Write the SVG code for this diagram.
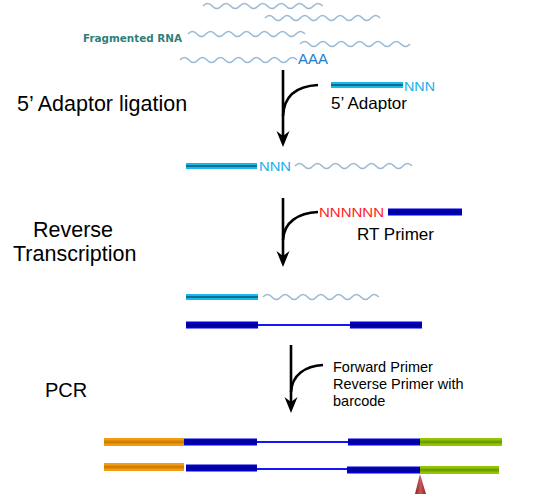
<svg xmlns="http://www.w3.org/2000/svg" width="551" height="494" viewBox="0 0 551 494">
<style>
.wave{fill:none;stroke:#9bb9d2;stroke-width:1.6}
.lbl{font-family:"Liberation Sans",Arial,sans-serif;fill:#000}
.cyo{stroke:#1ab8e8;stroke-width:6;fill:none}
.cyi{stroke:#0b6f90;stroke-width:2;fill:none}
.blo{stroke:#0000d8;stroke-width:7;fill:none}
.bli{stroke:#000092;stroke-width:3;fill:none}
.thin{stroke:#1414ff;stroke-width:2.2;fill:none}
.oro{stroke:#f29c14;stroke-width:8;fill:none}
.ori{stroke:#d07f00;stroke-width:3;fill:none}
.gro{stroke:#94c600;stroke-width:8;fill:none}
.gri{stroke:#6f9d00;stroke-width:3;fill:none}
.arr{stroke:#000;stroke-width:2.6;fill:none}
</style>
<defs>
<linearGradient id="tri" x1="0" y1="0" x2="1" y2="0">
<stop offset="0" stop-color="#8a2424"/><stop offset="0.5" stop-color="#c45858"/><stop offset="1" stop-color="#8a2424"/>
</linearGradient>
</defs>
<rect width="551" height="494" fill="#fff"/>

<g id="fragmented-rna">
<path class="wave" d="M203,6 q4.6,-5 9.2,0 t9.2,0 t9.2,0 t9.2,0 t9.2,0 t9.2,0 t9.2,0 t9.2,0 t9.2,0 t9.2,0 t9.2,0 t9.2,0 t9.2,0"/>
<path class="wave" d="M265,18 q4.4,-5 8.85,0 t8.85,0 t8.85,0 t8.85,0 t8.85,0 t8.85,0 t8.85,0 t8.85,0 t8.85,0 t8.85,0 t8.85,0 t8.85,0 t8.85,0"/>
<path class="wave" d="M188,34 q4.5,-5 9,0 t9,0 t9,0 t9,0 t9,0 t9,0 t9,0 t9,0 t9,0 t9,0 t9,0 t9,0 t9,0"/>
<path class="wave" d="M300,44 q4.6,-5 9.17,0 t9.17,0 t9.17,0 t9.17,0 t9.17,0 t9.17,0 t9.17,0 t9.17,0 t9.17,0 t9.17,0 t9.17,0 t9.17,0"/>
<path class="wave" d="M180,60 q4.5,-5 9,0 t9,0 t9,0 t9,0 t9,0 t9,0 t9,0 t9,0 t9,0 t9,0 t9,0 t9,0 t9,0"/>
<text x="83" y="42" font-family="'DejaVu Sans',sans-serif" font-weight="bold" font-size="10.5" fill="#2f7f7a" textLength="99" lengthAdjust="spacingAndGlyphs">Fragmented RNA</text>
<text x="298" y="64" font-family="'Liberation Sans',Arial,sans-serif" font-size="14.5" fill="#2080d0" textLength="30" lengthAdjust="spacingAndGlyphs">AAA</text>
</g>

<g id="labels">
<text class="lbl" x="17" y="111" font-size="21.5">5’ Adaptor ligation</text>
<text class="lbl" x="33" y="237" font-size="21.5">Reverse</text>
<text class="lbl" x="13" y="261" font-size="21.5">Transcription</text>
<text class="lbl" x="45" y="397" font-size="20">PCR</text>
</g>

<g id="adaptor">
<line class="cyo" x1="331" y1="85" x2="403" y2="85"/>
<line class="cyi" x1="331" y1="85" x2="403" y2="85"/>
<text x="404" y="91" font-family="'Liberation Sans',Arial,sans-serif" font-size="13.5" fill="#1aace8" textLength="31" lengthAdjust="spacingAndGlyphs">NNN</text>
<text class="lbl" x="331" y="109" font-size="16.5" textLength="76" lengthAdjust="spacingAndGlyphs">5’ Adaptor</text>
</g>

<g id="ligated-rna">
<line class="cyo" x1="186" y1="166" x2="257" y2="166"/>
<line class="cyi" x1="186" y1="166" x2="257" y2="166"/>
<text x="259" y="171" font-family="'Liberation Sans',Arial,sans-serif" font-size="13.5" fill="#1aace8" textLength="32" lengthAdjust="spacingAndGlyphs">NNN</text>
<path class="wave" d="M295,166 q4.5,-5 9,0 t9,0 t9,0 t9,0 t9,0 t9,0 t9,0 t9,0 t9,0 t9,0 t9,0 t9,0 t9,0"/>
</g>

<g id="rt-primer">
<text x="319" y="217" font-family="'Liberation Sans',Arial,sans-serif" font-size="13.5" fill="#ff1a1a" textLength="65" lengthAdjust="spacingAndGlyphs">NNNNNN</text>
<line class="blo" x1="388" y1="212" x2="462" y2="212" stroke-width="6"/>
<line class="bli" x1="388" y1="212" x2="462" y2="212" stroke-width="2.5"/>
<text class="lbl" x="357" y="240" font-size="17" textLength="77" lengthAdjust="spacingAndGlyphs">RT Primer</text>
</g>

<g id="rt-product">
<line class="cyo" x1="186" y1="297" x2="258" y2="297"/>
<line class="cyi" x1="186" y1="297" x2="258" y2="297"/>
<path class="wave" d="M263,297 q4.45,-5 8.9,0 t8.9,0 t8.9,0 t8.9,0 t8.9,0 t8.9,0 t8.9,0 t8.9,0 t8.9,0 t8.9,0 t8.9,0 t8.9,0 t8.9,0"/>
<line class="thin" x1="258" y1="325" x2="350" y2="325"/>
<line class="blo" x1="186" y1="325" x2="258" y2="325"/>
<line class="bli" x1="186" y1="325" x2="258" y2="325"/>
<line class="blo" x1="350" y1="325" x2="422" y2="325"/>
<line class="bli" x1="350" y1="325" x2="422" y2="325"/>
</g>

<g id="pcr-primers">
<text class="lbl" x="333" y="372" font-size="14.5">Forward Primer</text>
<text class="lbl" x="333" y="389" font-size="14.5">Reverse Primer with</text>
<text class="lbl" x="333" y="406" font-size="14.5">barcode</text>
</g>

<g id="pcr-product-1">
<line class="oro" x1="104" y1="442" x2="184" y2="442"/>
<line class="ori" x1="104" y1="442" x2="184" y2="442"/>
<line class="thin" x1="257" y1="442" x2="348" y2="442"/>
<line class="blo" x1="184" y1="442" x2="257" y2="442"/>
<line class="bli" x1="184" y1="442" x2="257" y2="442"/>
<line class="blo" x1="348" y1="442" x2="420" y2="442"/>
<line class="bli" x1="348" y1="442" x2="420" y2="442"/>
<line class="gro" x1="420" y1="442" x2="502" y2="442"/>
<line class="gri" x1="420" y1="442" x2="502" y2="442"/>
</g>

<g id="pcr-product-2">
<line class="oro" x1="104" y1="467" x2="184" y2="467"/>
<line class="ori" x1="104" y1="467" x2="184" y2="467"/>
<line class="thin" x1="257" y1="469" x2="347" y2="469"/>
<line class="blo" x1="186" y1="468" x2="257" y2="468"/>
<line class="bli" x1="186" y1="468" x2="257" y2="468"/>
<line class="blo" x1="347" y1="470" x2="420" y2="470"/>
<line class="bli" x1="347" y1="470" x2="420" y2="470"/>
<line class="gro" x1="420" y1="470" x2="499" y2="470"/>
<line class="gri" x1="420" y1="470" x2="499" y2="470"/>
<polygon points="420,474 415,494 426,494" fill="url(#tri)"/>
</g>

<g id="connectors">
<line class="arr" x1="283" y1="70" x2="283" y2="141"/>
<path class="arr" d="M318,85 C298,86 284,95 283,116"/>
<path d="M283,147 L276.5,131 L283,136 L289.5,131 Z" fill="#000"/>
<line class="arr" x1="283" y1="198" x2="283" y2="261"/>
<path class="arr" d="M318,212 C298,213 284,222 283,240"/>
<path d="M283,267 L276.5,251 L283,256 L289.5,251 Z" fill="#000"/>
<line class="arr" x1="291" y1="345" x2="291" y2="407"/>
<path class="arr" d="M323,365 C305,366 292,375 291,392"/>
<path d="M291,413 L284.5,397 L291,402 L297.5,397 Z" fill="#000"/>
</g>
</svg>
